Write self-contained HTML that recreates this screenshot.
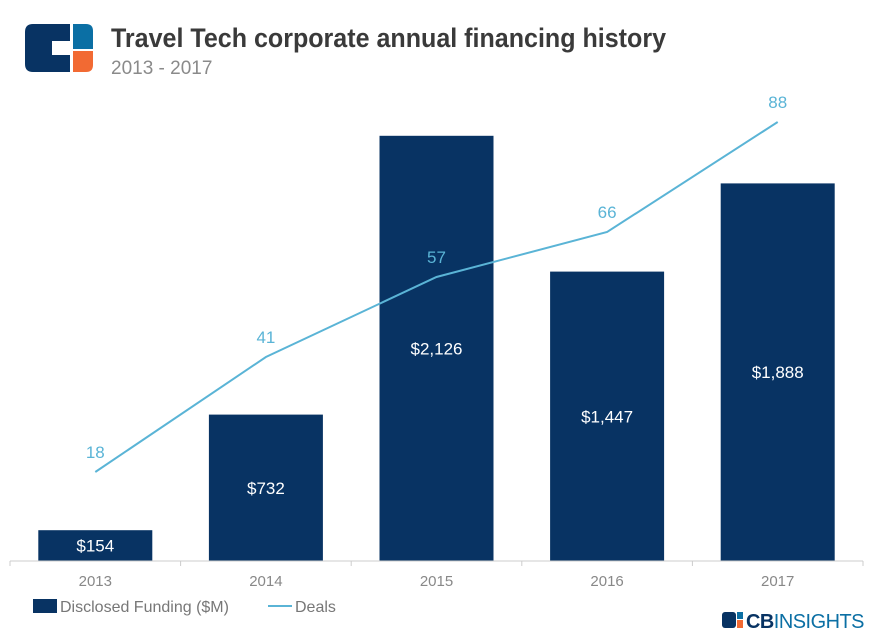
<!DOCTYPE html>
<html><head><meta charset="utf-8"><style>
body{margin:0;background:#fff;font-family:"Liberation Sans",sans-serif}
svg{display:block}
</style></head><body>
<svg width="880" height="638" viewBox="0 0 880 638">
<g>
<path d="M33 24 H70 V41 H52 V55 H70 V72 H33 Q25 72 25 64 V32 Q25 24 33 24 Z" fill="#083363"/>
<path d="M73 24 H86 Q93 24 93 31 V49 H73 Z" fill="#0b6fa4"/>
<path d="M73 51 H93 V65 Q93 72 86 72 H73 Z" fill="#f26a33"/>
</g>
<text x="111" y="47" font-size="27" font-weight="bold" fill="#3a3a3a" textLength="555" lengthAdjust="spacingAndGlyphs">Travel Tech corporate annual financing history</text>
<text x="111" y="74" font-size="19" fill="#8a8a8a">2013 - 2017</text>
<g id="plot"></g>
<g>
<rect x="33" y="599" width="24" height="14" fill="#083363"/>
<text x="60" y="612" font-size="16" fill="#777">Disclosed Funding ($M)</text>
<line x1="268" y1="606" x2="292" y2="606" stroke="#5ab4d6" stroke-width="2"/>
<text x="295" y="612" font-size="16" fill="#777">Deals</text>
</g>
<g>
<rect x="722" y="612" width="14" height="16" rx="3" fill="#083363"/>
<rect x="737" y="612" width="6" height="7" fill="#0b6fa4"/>
<rect x="737" y="620" width="6" height="8" fill="#f26a33"/>
<text x="746" y="628" font-size="20" font-weight="bold" fill="#083363" letter-spacing="-0.5" textLength="118" lengthAdjust="spacingAndGlyphs">CB<tspan font-weight="normal" fill="#0b6fa4">INSIGHTS</tspan></text>
</g>
</svg>
<script>
const categories=["2013","2014","2015","2016","2017"];
const funding=[154,732,2126,1447,1888];
const fundingLabels=["$154","$732","$2,126","$1,447","$1,888"];
const deals=[18,41,57,66,88];
const NS="http://www.w3.org/2000/svg";
const g=document.getElementById('plot');
const x0=10,x1=863,base=561,step=(x1-x0)/categories.length,bw=114;
const yF=v=>base-v*0.2;
const yD=v=>562-v*5;
const cx=i=>x0+step*(i+0.5);
function mk(t,a){const e=document.createElementNS(NS,t);for(const k in a)e.setAttribute(k,a[k]);g.appendChild(e);return e;}
categories.forEach((c,i)=>{
 const b=mk('rect',{x:cx(i)-bw/2,y:yF(funding[i]),width:bw,height:base-yF(funding[i]),fill:'#083363'});
 
 
 const ym=(yF(funding[i])+base)/2+6;
 const t=mk('text',{x:cx(i),y:ym,'text-anchor':'middle','font-size':17,fill:'#fff'});
 t.textContent=fundingLabels[i];
 
 
 const xl=mk('text',{x:cx(i),y:586,'text-anchor':'middle','font-size':15,fill:'#888'});
 xl.textContent=c;
 
 
});
const ax=mk('line',{x1:x0,y1:base,x2:x1,y2:base,stroke:'#ccc','stroke-width':1});


for(let i=0;i<=categories.length;i++){
 const tk=mk('line',{x1:x0+step*i,y1:base,x2:x0+step*i,y2:base+5,stroke:'#ccc'});
 
 
}
const pl=mk('polyline',{points:deals.map((d,i)=>cx(i)+','+yD(d)).join(' '),fill:'none',stroke:'#5ab4d6','stroke-width':2});


deals.forEach((d,i)=>{
 const t=mk('text',{x:cx(i),y:yD(d)-14,'text-anchor':'middle','font-size':17,fill:'#5ab4d6'});
 t.textContent=d;
 
 
});
</script>
</body></html>
